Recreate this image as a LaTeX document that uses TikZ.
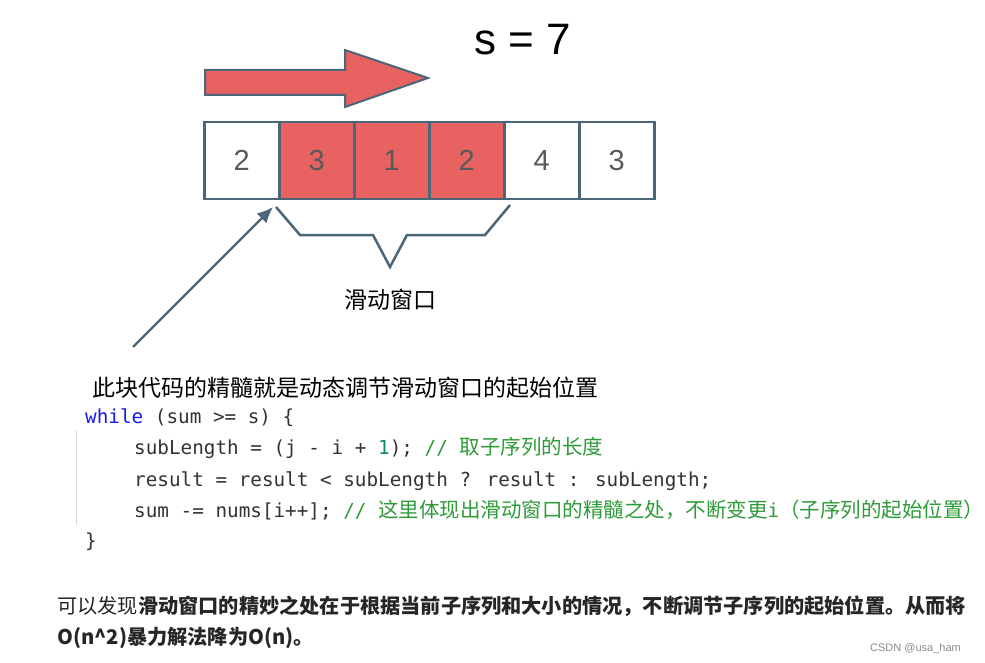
\documentclass[tikz,border=0pt]{standalone}
\usetikzlibrary{arrows.meta}
\usepackage{fontspec}
\setmainfont{Liberation Sans}
\newfontfamily\cjk{Noto Sans CJK SC}
\newfontfamily\cmono{DejaVu Sans Mono}
\definecolor{cellred}{HTML}{E86262}
\definecolor{edge}{HTML}{4B6679}
\definecolor{kw}{HTML}{1A1AE6}
\definecolor{cm}{HTML}{2E9B3A}
\definecolor{num}{HTML}{0A8A6A}
\definecolor{codegray}{HTML}{333333}
\newcommand{\mz}{\fontsize{19.3}{22}\cmono\color{codegray}}
\newcommand{\cz}{\fontsize{20.5}{22}\cjk}
\begin{document}
\begin{tikzpicture}[x=1pt,y=-1pt,
  cell/.style={draw=edge,line width=2.5pt,minimum width=75pt,minimum height=77pt,inner sep=0,anchor=north west,font=\fontsize{29}{30}\selectfont,text=black!65},
  txt/.style={inner sep=0,anchor=base west},
  conn/.style={draw=edge,line width=2.5pt}]
\useasboundingbox (0,0) rectangle (985,663);
\fill[white] (0,0) rectangle (985,663);
% arrow
\draw[edge,fill=cellred,line width=2pt,line join=miter] (205,70) -- (345,70) -- (345,50) -- (428,78) -- (345,107) -- (345,95) -- (205,95) -- cycle;
\node[txt,font=\fontsize{44}{46}\selectfont] (s) at (474,55) {s = 7};
% cells
\node[cell] (c1) at (203,121) {2};
\node[cell,fill=cellred] (c2) at (278,121) {3};
\node[cell,fill=cellred] (c3) at (353,121) {1};
\node[cell,fill=cellred] (c4) at (428,121) {2};
\node[cell] (c5) at (503,121) {4};
\node[cell] (c6) at (578,121) {3};
% brace
\coordinate (b1) at (276,207);
\coordinate (b2) at (510,205);
\draw[conn,line join=miter] (b1) -- (300,235) -- (373,235) -- (390,267) -- (407,235) -- (485,235) -- (b2);
\node[font=\cjk\fontsize{23}{24}\selectfont] (lab) at (390,300) {滑动窗口};
% pointer arrow
\coordinate (p0) at (133,347);
\coordinate (p1) at (273,207);
\draw[conn,line width=2.2pt,-{Latex[length=16pt,width=14pt]}] (p0) -- (p1);
% code
\node[txt,font=\cjk\fontsize{23}{24}\selectfont] (t1) at (92,396) {此块代码的精髓就是动态调节滑动窗口的起始位置};
\draw[black!15,line width=1pt] (76,430) -- (76,525);
\node[txt,font=\mz] (l0) at (85,423) {{\color{kw}while} (sum >= s) \{};
\node[txt,font=\mz] (l1) at (134,454) {subLength = (j - i + {\color{num}1}); {\color{cm}// {\cz 取子序列的长度}}};
\node[txt,font=\mz] (l2) at (134,486) {result = result < subLength ? result : subLength;};
\node[txt,font=\mz] (l3) at (134,517) {sum -= nums[i++]; {\color{cm}// {\cz 这里体现出滑动窗口的精髓之处，不断变更}i{\cz （子序列的起始位置）}}};
\node[txt,font=\mz] (l4) at (85,547) {\}};
% bottom text
\node[txt,font=\cjk\fontsize{20.2}{22}\selectfont,text=black!85] (b) at (57,613) {可以发现{\bfseries 滑动窗口的精妙之处在于根据当前子序列和大小的情况，不断调节子序列的起始位置。从而将}};
\node[txt,font=\cjk\fontsize{20.2}{22}\selectfont\bfseries,text=black!85] (bb) at (57,644) {O(n\^{}2)暴力解法降为O(n)。};
\node[txt,font=\fontsize{11}{12}\selectfont,text=black!45] (w) at (870,651) {CSDN @usa\_ham};
\end{tikzpicture}
\end{document}
